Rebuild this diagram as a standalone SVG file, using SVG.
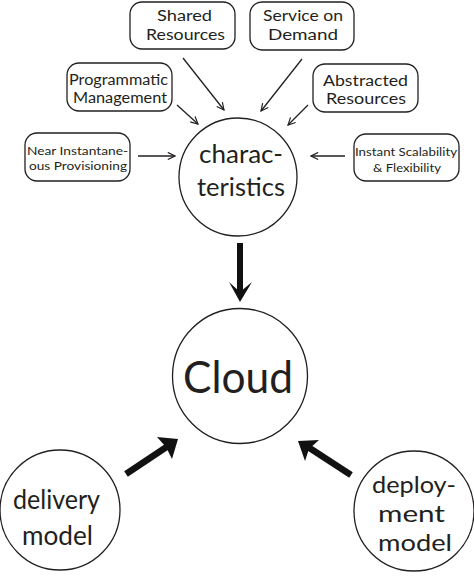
<svg xmlns="http://www.w3.org/2000/svg" width="474" height="578" viewBox="0 0 474 578">
<style>
.box{fill:#fff;stroke:#231f20;stroke-width:1.3}
.circ{fill:#fff;stroke:#231f20;stroke-width:1.3}
.t{font-family:Lato,"Noto Sans",sans-serif;fill:#231f20;text-anchor:middle}
.thin{stroke:#231f20;stroke-width:1.3;fill:none}
.s16{font-size:15.5px}
.s12{font-size:12.3px}
.big{font-size:25.5px}
.mid{font-size:24px}
</style>
<defs>
<marker id="ah" viewBox="0 0 10 10" refX="9" refY="5" markerWidth="9" markerHeight="9" markerUnits="userSpaceOnUse" orient="auto">
<path d="M1,1 L9,5 L1,9" fill="none" stroke="#231f20" stroke-width="1.3"/>
</marker>
</defs>
<rect width="474" height="578" fill="#fff"/>
<g id="shared"><rect class="box" x="130" y="2" width="105" height="47" rx="12"/><text class="t s16" x="184.5" y="21" textLength="55" lengthAdjust="spacingAndGlyphs">Shared</text><text class="t s16" x="185.5" y="39.8" textLength="79" lengthAdjust="spacingAndGlyphs">Resources</text></g>
<g id="service"><rect class="box" x="250" y="2" width="104" height="48" rx="12"/><text class="t s16" x="303" y="21" textLength="80" lengthAdjust="spacingAndGlyphs">Service on</text><text class="t s16" x="303" y="39.8" textLength="70" lengthAdjust="spacingAndGlyphs">Demand</text></g>
<g id="programmatic"><rect class="box" x="67" y="63" width="105" height="48" rx="12"/><text class="t s16" x="118.5" y="84.5" textLength="99" lengthAdjust="spacingAndGlyphs">Programmatic</text><text class="t s16" x="120" y="103.3" textLength="94" lengthAdjust="spacingAndGlyphs">Management</text></g>
<g id="abstracted"><rect class="box" x="313" y="64" width="105" height="48" rx="12"/><text class="t s16" x="365.5" y="85.5" textLength="85" lengthAdjust="spacingAndGlyphs">Abstracted</text><text class="t s16" x="366" y="104.3" textLength="80" lengthAdjust="spacingAndGlyphs">Resources</text></g>
<g id="near"><rect class="box" x="25" y="133" width="105" height="48" rx="12"/><text class="t s12" x="77.5" y="155" textLength="101" lengthAdjust="spacingAndGlyphs">Near Instantane-</text><text class="t s12" x="78" y="170" textLength="98" lengthAdjust="spacingAndGlyphs">ous Provisioning</text></g>
<g id="instant"><rect class="box" x="354" y="134" width="105" height="47" rx="12"/><text class="t s12" x="406" y="156" textLength="102" lengthAdjust="spacingAndGlyphs">Instant Scalability</text><text class="t s12" x="407" y="171.5" textLength="68" lengthAdjust="spacingAndGlyphs">&amp; Flexibility</text></g>
<g id="characteristics"><circle class="circ" cx="238" cy="177" r="59"/><text class="t big" x="241" y="162.5" textLength="84" lengthAdjust="spacingAndGlyphs">charac-</text><text class="t big" x="241" y="196" textLength="88" lengthAdjust="spacingAndGlyphs">teristics</text></g>
<g id="cloud"><circle class="circ" cx="240" cy="376" r="67.5"/><text class="t" font-size="44" x="238" y="393" textLength="110" lengthAdjust="spacingAndGlyphs">Cloud</text></g>
<g id="delivery"><circle class="circ" cx="60" cy="510" r="60"/><text class="t" font-size="26" x="56.5" y="508.5" textLength="87" lengthAdjust="spacingAndGlyphs">delivery</text><text class="t" font-size="26" x="57.5" y="544.5" textLength="71" lengthAdjust="spacingAndGlyphs">model</text></g>
<g id="deployment"><circle class="circ" cx="414" cy="511" r="60"/><text class="t mid" x="414" y="492.5" textLength="84" lengthAdjust="spacingAndGlyphs">deploy-</text><text class="t mid" x="411.5" y="521.5" textLength="67" lengthAdjust="spacingAndGlyphs">ment</text><text class="t mid" x="415" y="550.5" textLength="74" lengthAdjust="spacingAndGlyphs">model</text></g>
<g id="connectors">
<line class="thin" x1="183" y1="58" x2="224" y2="110" marker-end="url(#ah)"/>
<line class="thin" x1="302" y1="59" x2="261" y2="111" marker-end="url(#ah)"/>
<line class="thin" x1="177" y1="105" x2="198" y2="124" marker-end="url(#ah)"/>
<line class="thin" x1="308" y1="105" x2="288" y2="125" marker-end="url(#ah)"/>
<line class="thin" x1="138" y1="156" x2="175" y2="156" marker-end="url(#ah)"/>
<line class="thin" x1="345" y1="156" x2="311" y2="156" marker-end="url(#ah)"/>
<path d="M240,243 V296" stroke="#111" stroke-width="6"/>
<path d="M229,282 L240,302 L252,282 L240,292 Z" fill="#111"/>
<path d="M126,474 L168,446" stroke="#111" stroke-width="6.5"/>
<path d="M178,439 L157,437 L166,447 L172,459 Z" fill="#111"/>
<path d="M351,475 L308,447" stroke="#111" stroke-width="6.5"/>
<path d="M298,441 L319,440 L309,449 L305,461 Z" fill="#111"/>
</g>
</svg>
